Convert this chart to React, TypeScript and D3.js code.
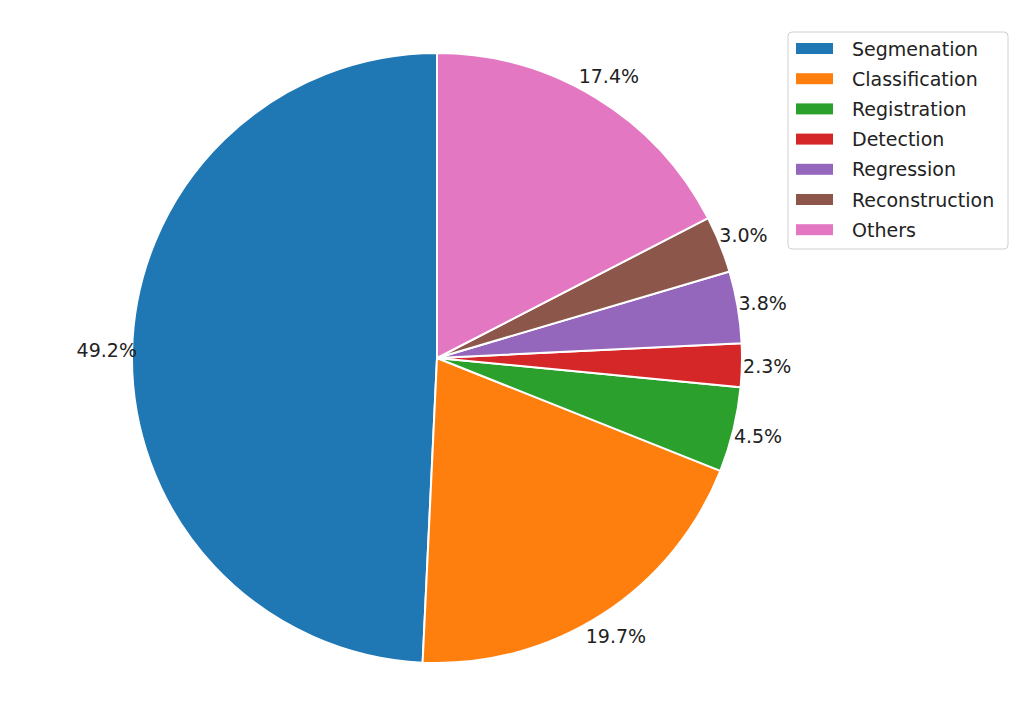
import React from "react";
import * as d3 from "d3";

const categories = ["Segmenation", "Classification", "Registration", "Detection", "Regression", "Reconstruction", "Others"];
const values = [49.2, 19.7, 4.5, 2.3, 3.8, 3.0, 17.4];
const colors = ["#1f77b4", "#ff7f0e", "#2ca02c", "#d62728", "#9467bd", "#8c564b", "#e377c2"];

const W = 1022;
const H = 720;
const cx = 437;
const cy = 358;
const R = 305;
const FONT = "DejaVu Sans, sans-serif";
const FS = 19;

export default function App() {
  const total = d3.sum(values);
  const pie = d3
    .pie<number>()
    .sort(null)
    .value((d) => d)
    .startAngle(0)
    .endAngle(-2 * Math.PI);
  const arcs = pie(values);
  const arc = d3.arc<d3.PieArcDatum<number>>().innerRadius(0).outerRadius(R);
  const lr = R * 1.083;
  const labelArc = d3.arc<d3.PieArcDatum<number>>().innerRadius(lr).outerRadius(lr);
  const fmt = (v: number) => ((v / total) * 100).toFixed(1) + "%";

  const legendX = 788;
  const legendY = 32;
  const rowH = 30.2;

  return (
    <svg width={W} height={H} style={{ position: "absolute", left: 0, top: 0 }} fontFamily={FONT}>
      <rect x={0} y={0} width={W} height={H} fill="#fff" />
      <g transform={`translate(${cx},${cy})`}>
        {arcs.map((a, i) => (
          <path key={i} d={arc(a) || ""} fill={colors[i]} stroke="#fff" strokeWidth={2} strokeLinejoin="round" />
        ))}
        {arcs.map((a, i) => {
          const [x, y] = labelArc.centroid(a);
          return (
            <text key={i} x={x} y={y} textAnchor="middle" dominantBaseline="central" fontSize={FS} fill="#222">
              {fmt(values[i])}
            </text>
          );
        })}
      </g>
      <g>
        <rect x={legendX} y={legendY} width={220} height={217} rx={4} ry={4} fill="#fff" fillOpacity={0.8} stroke="#d0d0d0" strokeWidth={1} />
        {categories.map((c, i) => {
          const y = legendY + 16.5 + i * rowH;
          return (
            <g key={c}>
              <rect x={796} y={y - 5.5} width={37} height={11} fill={colors[i]} />
              <text x={852} y={y} dominantBaseline="central" fontSize={FS} fill="#222">
                {c}
              </text>
            </g>
          );
        })}
      </g>
    </svg>
  );
}
